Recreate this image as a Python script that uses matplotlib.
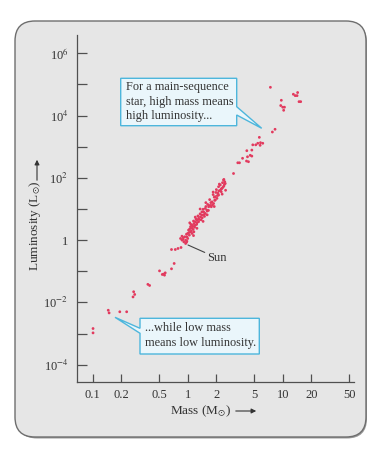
import numpy as np
import matplotlib.pyplot as plt
from matplotlib.patches import FancyBboxPatch, Polygon
from matplotlib.ticker import FixedLocator, FixedFormatter, NullLocator

plt.rcParams['font.family'] = ['Liberation Serif', 'DejaVu Serif']
plt.rcParams['mathtext.fontset'] = 'stix'

# masse (solmasser) og luminositet (sol-luminositeter), lest av figuren
mass = [0.101, 0.101, 0.146, 0.149, 0.193, 0.228, 0.270, 0.277, 0.266, 0.381, 0.397,
        0.505, 0.540, 0.570, 0.580, 0.555, 0.675, 0.720,
        0.675, 0.740, 0.790, 0.850,
        0.87, 0.93, 0.84, 0.89, 0.95, 1.00, 0.91, 0.95, 0.87, 0.98,
        2.38, 2.48, 2.20, 2.11, 2.29, 2.20, 2.25, 2.08, 2.11, 1.95, 2.03, 1.92, 1.80, 1.87,
        1.73, 1.66, 1.77, 1.53, 1.59, 1.47, 1.41, 1.53, 1.41, 1.36, 1.30, 1.25, 1.20, 1.30,
        1.16, 1.11, 1.20, 1.07, 1.11, 1.02, 1.07, 1.16, 1.00, 1.11, 1.04, 0.98,
        2.45, 2.32, 2.15, 2.40, 2.00, 2.12, 1.98, 1.85, 1.90, 1.70, 1.75, 1.62, 1.68, 1.55,
        1.45, 1.60, 1.35, 1.48, 1.28, 1.42, 1.22, 1.32, 1.15, 1.25, 1.08, 1.18, 1.05, 1.14,
        0.97, 1.09, 1.03, 1.13, 1.24, 1.38, 1.50, 1.65, 1.82, 1.95, 2.05, 2.25, 2.35, 2.43,
        1.25, 1.05, 1.45, 1.20, 1.60, 1.35, 1.90, 1.55, 2.30, 1.85, 2.50, 1.15, 0.90, 0.97,
        3.03, 2.40, 3.36, 3.50, 3.77, 4.15, 4.35, 4.25, 4.54, 4.72, 4.18, 4.72,
        4.83, 5.19, 5.45, 5.82, 6.15, 5.77, 5.66, 7.76, 8.28,
        7.40, 9.64, 9.50, 9.97, 10.4, 10.2, 12.9, 13.5, 14.1, 14.3, 14.8, 15.4]
lum = [0.00145, 0.00105, 0.0056, 0.0046, 0.005, 0.005, 0.022, 0.018, 0.015, 0.038, 0.035,
       0.103, 0.079, 0.075, 0.089, 0.081, 0.12, 0.178,
       0.50, 0.50, 0.54, 0.58,
       1.34, 1.28, 1.13, 1.05, 1.0, 1.13, 0.88, 0.78, 1.0, 0.92,
       85, 66, 59, 52, 46, 40, 36, 32, 28, 25, 22, 19, 17, 15,
       13, 11.8, 11.8, 10.4, 9.2, 8.1, 8.1, 7.2, 6.4, 5.6, 5.0, 4.4, 3.9, 3.9,
       3.4, 3.0, 3.0, 2.7, 2.4, 2.1, 1.85, 1.85, 1.64, 1.64, 1.45, 1.28,
       75, 70, 63, 55, 42, 38, 34, 29, 24, 20, 16, 14, 12.8, 12,
       9.8, 8.6, 7.0, 6.6, 6.0, 5.2, 4.8, 4.6, 4.1, 3.6, 3.2, 2.6, 2.3, 2.2,
       1.55, 1.95, 1.75, 2.8, 3.2, 4.5, 5.8, 9.0, 13.5, 19.5, 27, 44, 50, 62,
       2.4, 3.6, 4.0, 5.5, 6.5, 10, 12, 16, 30, 35, 40, 1.4, 1.2, 0.85,
       138, 89, 305, 305, 425, 347, 330, 475, 530, 500, 745, 780,
       1150, 1150, 1290, 1350, 1290, 1110, 2000, 2970, 3630,
       81000, 31000, 21000, 18600, 18600, 14800, 48400, 43700, 43700, 55000, 28000, 28000]

x_ticks = [0.1, 0.2, 0.5, 1, 2, 5, 10, 20, 50]
x_labels = ['0.1', '0.2', '0.5', '1', '2', '5', '10', '20', '50']
y_ticks = [1e-4, 1e-3, 1e-2, 1e-1, 1, 1e1, 1e2, 1e3, 1e4, 1e5, 1e6]
y_labels = ['10$^{-4}$', '', '10$^{-2}$', '', '1', '', '10$^{2}$', '', '10$^{4}$', '', '10$^{6}$']

W, H = 375, 451
fig = plt.figure(figsize=(W/100, H/100), dpi=100)

def fp(x, y):
    # piksel (fra øvre venstre hjørne) -> figurbrøk
    return (x / W, 1 - y / H)

# bakgrunnspanel med avrundede hjørner
shadow = FancyBboxPatch((0.17, 0.125), 3.50, 4.16, boxstyle='round,pad=0,rounding_size=0.2',
                        transform=fig.dpi_scale_trans, fc='#9a9a9a', ec='none', zorder=-2)
panel = FancyBboxPatch((0.15, 0.14), 3.51, 4.16, boxstyle='round,pad=0,rounding_size=0.2',
                       transform=fig.dpi_scale_trans, fc='#e6e6e6', ec='#6e6e6e', lw=1.0, zorder=-1)
fig.patches.extend([shadow, panel])

ax = fig.add_axes([76.7/W, 1 - 382/H, (354 - 76.7)/W, (382 - 35)/H])
ax.set_zorder(1)
ax.patch.set_alpha(0)
ax.set_xscale('log')
ax.set_yscale('log')
ax.set_xlim(0.068, 56)
ax.set_ylim(10**-4.556, 10**6.588)

ax.scatter(mass, lum, s=4, color='#e23a5e', edgecolors='none', zorder=3)

for side in ['top', 'right']:
    ax.spines[side].set_visible(False)
for side in ['left', 'bottom']:
    ax.spines[side].set_color('#505050')
    ax.spines[side].set_linewidth(0.9)

ax.xaxis.set_major_locator(FixedLocator(x_ticks))
ax.xaxis.set_major_formatter(FixedFormatter(x_labels))
ax.xaxis.set_minor_locator(NullLocator())
ax.yaxis.set_major_locator(FixedLocator(y_ticks))
ax.yaxis.set_major_formatter(FixedFormatter(y_labels))
ax.yaxis.set_minor_locator(NullLocator())
ax.tick_params(axis='x', direction='in', length=6, width=0.9, color='#505050',
               labelsize=9, labelcolor='#333333', pad=5)
ax.tick_params(axis='y', direction='in', length=7.5, width=0.9, color='#505050',
               labelsize=9, labelcolor='#333333', pad=6)

# akseetiketter med piler
fig.text(*fp(201, 411), r'Mass (M$_{\odot}$)', ha='center', va='center', fontsize=9.5, color='#333333')
fig.text(*fp(35, 226), r'Luminosity (L$_{\odot}$)', ha='center', va='center', rotation=90,
         fontsize=9.5, color='#333333')
fig.add_artist(plt.Annotation('', xy=fp(259, 411), xytext=fp(233, 411), xycoords='figure fraction',
               arrowprops=dict(arrowstyle='-|>', color='#333333', lw=0.8, mutation_scale=7)))
fig.add_artist(plt.Annotation('', xy=fp(37, 157), xytext=fp(37, 183), xycoords='figure fraction',
               arrowprops=dict(arrowstyle='-|>', color='#333333', lw=0.8, mutation_scale=7)))

# forklaringsbokser
box_fc = '#eaf6fb'
box_ec = '#4db6dc'
box1 = [(120.7, 78.3), (236.7, 78.3), (236.7, 106.7), (261.7, 128.3), (236.7, 115),
        (236.7, 125.7), (120.7, 125.7)]
box2 = [(140, 318.3), (259.3, 318.3), (259.3, 354), (140, 354), (140, 333.3),
        (115, 317.3), (140, 328.3)]
for pts in [box1, box2]:
    fig.add_artist(Polygon([fp(x, y) for x, y in pts], closed=True, transform=fig.transFigure,
                           fc=box_fc, ec=box_ec, lw=1.0, zorder=5))

fig.text(*fp(125.5, 81), 'For a main-sequence\nstar, high mass means\nhigh luminosity...',
         ha='left', va='top', fontsize=8.8, color='#333333', linespacing=1.3, zorder=6)
fig.text(*fp(145, 322), '...while low mass\nmeans low luminosity.',
         ha='left', va='top', fontsize=8.8, color='#333333', linespacing=1.3, zorder=6)

# Sola
fig.add_artist(plt.Annotation('Sun', xy=fp(188, 245), xytext=fp(207.5, 258), xycoords='figure fraction',
               textcoords='figure fraction', ha='left', va='center', fontsize=9, color='#333333',
               arrowprops=dict(arrowstyle='-', color='#444444', lw=0.8, shrinkA=0, shrinkB=0)))

fig.savefig('out.png', dpi=100, facecolor='white')
